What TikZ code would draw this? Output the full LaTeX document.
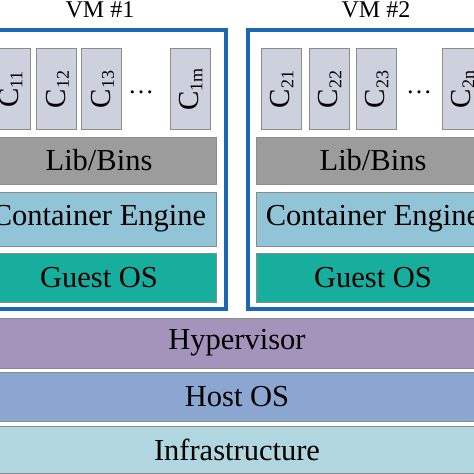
\documentclass[tikz,border=0pt]{standalone}
\usepackage{fontspec}
\setmainfont{Liberation Serif}
\definecolor{cbox}{HTML}{CDD1DD}
\definecolor{cline}{HTML}{8C8C8C}
\definecolor{libc}{HTML}{9C9C9C}
\definecolor{cengc}{HTML}{92C4D8}
\definecolor{guestc}{HTML}{17AE9E}
\definecolor{hypc}{HTML}{A494BC}
\definecolor{hostc}{HTML}{8BA6D0}
\definecolor{infc}{HTML}{B0D6E0}
\definecolor{vmblue}{HTML}{1C68B0}
\tikzset{
  layer/.style={draw=cline, line width=1pt, rectangle, inner sep=0pt, font=\fontsize{30.5}{36}\selectfont, text=black},
  cont/.style={draw=cline, line width=1pt, fill=cbox, rectangle, inner sep=0pt, minimum width=40pt, minimum height=81pt},
  vmbox/.style={draw=vmblue, line width=4pt, rectangle, inner sep=0pt, minimum width=253.5pt, minimum height=279pt},
  vmlabel/.style={font=\fontsize{24}{28}\selectfont, inner sep=0pt},
  ctext/.style={rotate=90, inner sep=0pt, font=\fontsize{29}{30}\selectfont}
}
\newcommand{\cname}[1]{C\raisebox{-0.12em}{\fontsize{18}{20}\selectfont #1}}
\begin{document}
\begin{tikzpicture}[x=1pt,y=-1pt]
\useasboundingbox (0,0) rectangle (474,474);
\fill[white] (0,0) rectangle (474,474);
% VM labels
\node[vmlabel] (vm1l) at (100,10) {VM \#1};
\node[vmlabel] (vm2l) at (376,10) {VM \#2};
% VM boxes
\node[vmbox] (vm1) at (98.75,169.5) {};
\node[vmbox] (vm2) at (374.25,169.5) {};
% containers VM1
\node[cont] (c11) at (10,88.5) {};
\node[ctext] at ([xshift=1pt,yshift=-1pt]c11.center) {\cname{11}};
\node[cont] (c12) at (56.5,88.5) {};
\node[ctext] at ([xshift=1pt,yshift=-1pt]c12.center) {\cname{12}};
\node[cont] (c13) at (101.5,88.5) {};
\node[ctext] at ([xshift=1pt,yshift=-1pt]c13.center) {\cname{13}};
\node[font=\fontsize{26}{28}\selectfont, inner sep=0pt] (d1) at (141,92) {\dots};
\node[cont] (c1m) at (190,88.5) {};
\node[ctext] at ([xshift=1pt,yshift=-1pt]c1m.center) {\cname{1m}};
% containers VM2
\node[cont] (c21) at (281,88.5) {};
\node[ctext] at ([xshift=1pt,yshift=-1pt]c21.center) {\cname{21}};
\node[cont] (c22) at (329,88.5) {};
\node[ctext] at ([xshift=1pt,yshift=-1pt]c22.center) {\cname{22}};
\node[cont] (c23) at (376,88.5) {};
\node[ctext] at ([xshift=1pt,yshift=-1pt]c23.center) {\cname{23}};
\node[font=\fontsize{26}{28}\selectfont, inner sep=0pt] (d2) at (419,92) {\dots};
\node[cont] (c2n) at (462,88.5) {};
\node[ctext] at ([xshift=1pt,yshift=-1pt]c2n.center) {\cname{2n}};
% VM1 layers
\node[layer, fill=libc, minimum width=234pt, minimum height=47pt] (lib1) at (99,160.5) {Lib/Bins};
\node[layer, fill=cengc, minimum width=234pt, minimum height=54pt] (ce1) at (99,219) {Container Engine};
\node[layer, fill=guestc, minimum width=234pt, minimum height=49pt] (g1) at (99,277.5) {Guest OS};
% VM2 layers
\node[layer, fill=libc, minimum width=234pt, minimum height=47pt] (lib2) at (373,160.5) {Lib/Bins};
\node[layer, fill=cengc, minimum width=234pt, minimum height=54pt] (ce2) at (373,219) {Container Engine};
\node[layer, fill=guestc, minimum width=234pt, minimum height=49pt] (g2) at (373,277.5) {Guest OS};
% bottom layers
\node[layer, fill=hypc, minimum width=490pt, minimum height=50pt] (hyp) at (237,343) {Hypervisor};
\node[layer, fill=hostc, minimum width=490pt, minimum height=49pt] (host) at (237,396.5) {Host OS};
\node[layer, fill=infc, minimum width=490pt, minimum height=47pt] (inf) at (237,449.5) {Infrastructure};
\end{tikzpicture}
\end{document}
